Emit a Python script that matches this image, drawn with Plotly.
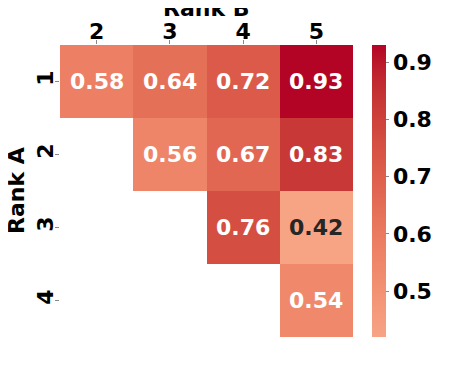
import numpy as np
import plotly.graph_objects as go

rank_b = [2, 3, 4, 5]
rank_a = [1, 2, 3, 4]
row1 = [0.58, 0.64, 0.72, 0.93]
row2 = [None, 0.56, 0.67, 0.83]
row3 = [None, None, 0.76, 0.42]
row4 = [None, None, None, 0.54]
values = [row1, row2, row3, row4]

# coolwarm (upper half) colours, used with a symmetric range centred at 0
cw_t = [0.5, 0.53125, 0.5625, 0.59375, 0.625, 0.65625, 0.6875, 0.71875, 0.75,
        0.78125, 0.8125, 0.84375, 0.875, 0.90625, 0.9375, 0.96875, 1.0]
cw_rgb = [(221, 221, 221), (229, 216, 209), (236, 211, 197), (241, 204, 184),
          (245, 196, 172), (247, 187, 160), (247, 177, 148), (247, 167, 135),
          (244, 154, 123), (241, 141, 111), (236, 127, 99), (229, 112, 88),
          (222, 96, 77), (213, 80, 66), (203, 62, 56), (192, 40, 47), (180, 4, 38)]

flat = [v for r in values for v in r if v is not None]
zmin, zmax = min(flat), max(flat)
vabs = zmax


def cw(t):
    t = min(max(t, 0.5), 1.0)
    for i in range(len(cw_t) - 1):
        if cw_t[i] <= t <= cw_t[i + 1]:
            f = (t - cw_t[i]) / (cw_t[i + 1] - cw_t[i])
            a, b = cw_rgb[i], cw_rgb[i + 1]
            return tuple(a[k] + f * (b[k] - a[k]) for k in range(3))
    return cw_rgb[-1]


def rel_lum(rgb):
    out = []
    for c in rgb:
        c = c / 255.0
        out.append(c / 12.92 if c <= 0.03928 else ((c + 0.055) / 1.055) ** 2.4)
    return 0.2126 * out[0] + 0.7152 * out[1] + 0.0722 * out[2]


colorscale = []
for p in np.linspace(0, 1, 21):
    z = zmin + p * (zmax - zmin)
    t = 0.5 + z / (2 * vabs)
    r, g, b = cw(t)
    colorscale.append([float(p), f"rgb({r:.0f},{g:.0f},{b:.0f})"])

z = np.array([[np.nan if v is None else v for v in r] for r in values], dtype=float)

fig = go.Figure(go.Heatmap(
    x=rank_b, y=rank_a, z=z, zmin=zmin, zmax=zmax,
    colorscale=colorscale, xgap=0, ygap=0, hoverongaps=False,
    colorbar=dict(
        x=1.065, xanchor="left", xpad=0, ypad=0, y=0.5, yanchor="middle",
        len=1.0, lenmode="fraction",
        thickness=14, outlinewidth=0, ticks="outside", ticklen=3, tickcolor="#888",
        tickvals=[0.5, 0.6, 0.7, 0.8, 0.9], tickformat=".1f",
        tickfont=dict(family="DejaVu Sans", size=22, color="black", weight="bold"),
    ),
))

annotations = []
for i, a in enumerate(rank_a):
    for j, b in enumerate(rank_b):
        v = values[i][j]
        if v is None:
            continue
        t = 0.5 + v / (2 * vabs)
        col = "#262626" if rel_lum(cw(t)) > 0.408 else "white"
        annotations.append(dict(x=b, y=a, text=f"{v:.2f}", showarrow=False,
                                font=dict(family="DejaVu Sans", size=22, color=col, weight="bold")))

# axis titles
annotations.append(dict(text="Rank B", xref="paper", yref="paper", x=0.5, y=1.0,
                        yshift=37, xanchor="center", yanchor="middle", showarrow=False,
                        font=dict(family="DejaVu Sans", size=22, color="black", weight="bold")))
annotations.append(dict(text="Rank A", xref="paper", yref="paper", x=0.0, y=0.5,
                        xshift=-44, xanchor="center", yanchor="middle", textangle=-90,
                        showarrow=False,
                        font=dict(family="DejaVu Sans", size=22, color="black", weight="bold")))

fig.update_layout(
    width=474, height=379,
    margin=dict(l=52, r=129, t=37, b=50),
    paper_bgcolor="white", plot_bgcolor="white",
    annotations=annotations,
    font=dict(family="DejaVu Sans", color="black"),
    xaxis=dict(side="top", range=[1.5, 5.5], tickvals=rank_b, ticks="outside", ticklen=4,
               tickcolor="#888", showgrid=False, zeroline=False, showline=False,
               ticklabelstandoff=-8,
               tickfont=dict(size=22, weight="bold"), automargin=False),
    yaxis=dict(range=[4.5, 0.5], tickvals=rank_a, ticks="outside", ticklen=4,
               tickcolor="#888", showgrid=False, zeroline=False, showline=False,
               tickangle=-90, ticklabelstandoff=-7,
               tickfont=dict(size=22, weight="bold"), automargin=False),
)

fig.write_html("out.html")
